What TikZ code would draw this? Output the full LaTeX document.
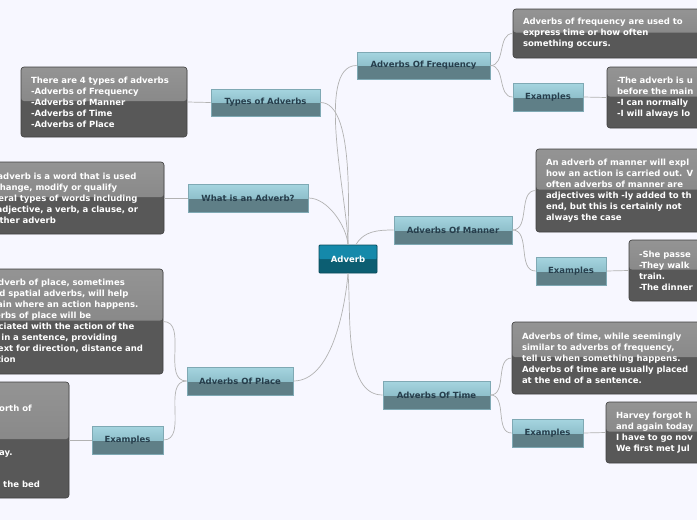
\documentclass[tikz,border=0pt]{standalone}
\usepackage{fontspec}
\setmainfont{DejaVu Sans}
\definecolor{gtop}{HTML}{7E7E7E}
\definecolor{gbot}{HTML}{585858}
\definecolor{btop}{HTML}{8FCAD8}
\definecolor{bbot}{HTML}{5F7F87}
\definecolor{bdr}{HTML}{7FA9B4}
\definecolor{btxt}{HTML}{263E4C}
\definecolor{rtop}{HTML}{1589AA}
\definecolor{rbot}{HTML}{0C5E72}
\begin{document}
\begin{tikzpicture}[x=1pt,y=-1pt,
  conn/.style={draw=black!30,line width=0.7pt},
  graybox/.style={draw=black!75,line width=0.6pt,rounded corners=3pt,fill=gbot,
    text=white,font=\fontsize{8.5}{11}\selectfont\bfseries,align=left,inner xsep=10pt,
    path picture={\shade[top color=black!42,bottom color=gtop] (path picture bounding box.north west) rectangle ([yshift=1pt]path picture bounding box.east);}},
  bluebox/.style={draw=bdr,line width=0.9pt,fill=bbot,
    text=btxt,font=\fontsize{8.5}{10}\selectfont\bfseries,
    path picture={\shade[top color=btop!80!white,bottom color=btop!85!black] (path picture bounding box.north west) rectangle (path picture bounding box.east);}},
  rootbox/.style={draw=rbot!80!black,line width=0.8pt,fill=rbot,rounded corners=1pt,
    text=white,font=\fontsize{8.5}{10}\selectfont\bfseries,
    path picture={\fill[rtop] (path picture bounding box.north west) rectangle (path picture bounding box.east);}}
]
\newcommand{\bx}[7]{\pgfmathsetmacro{\cx}{(#3+#5)/2}\pgfmathsetmacro{\cy}{(#4+#6)/2}%
  \pgfmathsetmacro{\bw}{#5-#3}\pgfmathsetmacro{\bh}{#6-#4}\pgfmathsetmacro{\tw}{#5-#3-20}%
  \node[#1,minimum width=\bw pt,minimum height=\bh pt,inner ysep=0pt,text width=\tw pt] (#2) at (\cx,\cy) {#7};}
\newcommand{\bl}[7]{\pgfmathsetmacro{\cx}{(#3+#5)/2}\pgfmathsetmacro{\cy}{(#4+#6)/2}%
  \pgfmathsetmacro{\bw}{#5-#3}\pgfmathsetmacro{\bh}{#6-#4}%
  \node[#1,minimum width=\bw pt,minimum height=\bh pt,inner sep=0pt] (#2) at (\cx,\cy) {#7};}
\useasboundingbox (0,0) rectangle (697,520);
\clip (0,0) rectangle (697,520);
\fill[blue!3] (0,0) rectangle (697,520);

% gray description boxes
\bx{graybox}{fd}{513}{9}{760}{58}{Adverbs of frequency are used to\\express time or how often\\something occurs.}
\bx{graybox}{fe}{607}{67}{760}{128}{-The adverb is u\\before the main\\-I can normally\\-I will always lo}
\bx{graybox}{td}{21}{67}{187}{137}{There are 4 types of adverbs\\-Adverbs of Frequency\\-Adverbs of Manner\\-Adverbs of Time\\-Adverbs of Place}
\bx{graybox}{wd}{-28}{162}{164}{234}{An adverb is a word that is used\\to change, modify or qualify\\several types of words including\\an adjective, a verb, a clause, or\\another adverb}
\bx{graybox}{md}{536}{149}{760}{232}{An adverb of manner will expl\\how an action is carried out. V\\often adverbs of manner are\\adjectives with -ly added to th\\end, but this is certainly not\\always the case}
\bx{graybox}{me}{629}{240}{760}{301}{-She passe\\-They walk\\train.\\-The dinner}
\bx{graybox}{pd}{-33}{269}{163}{374}{An adverb of place, sometimes\\called spatial adverbs, will help\\explain where an action happens.\\Adverbs of place will be\\associated with the action of the\\verb in a sentence, providing\\context for direction, distance and\\position}
\bx{graybox}{pe}{-60}{382}{69}{498}{}
\node[font=\fontsize{8.5}{11}\selectfont\bfseries,text=white,anchor=base west,inner sep=0pt] (pe1) at (-1,411) {orth of};
\node[font=\fontsize{8.5}{11}\selectfont\bfseries,text=white,anchor=base west,inner sep=0pt] (pe2) at (-1,455) {ay.};
\node[font=\fontsize{8.5}{11}\selectfont\bfseries,text=white,anchor=base west,inner sep=0pt] (pe3) at (3,487) {the bed};
\bx{graybox}{tmd}{512}{322}{760}{394}{Adverbs of time, while seemingly\\similar to adverbs of frequency,\\tell us when something happens.\\Adverbs of time are usually placed\\at the end of a sentence.}
\bx{graybox}{tme}{606}{402}{760}{463}{Harvey forgot h\\and again today\\I have to go nov\\We first met Jul}

% branch boxes
\bl{rootbox}{root}{319}{245}{377}{273}{Adverb}
\bl{bluebox}{fr}{357}{52}{490}{79}{Adverbs Of Frequency}
\bl{bluebox}{fx}{513}{83}{583}{111}{Examples}
\bl{bluebox}{ty}{211}{89}{320}{116}{Types of Adverbs}
\bl{bluebox}{wh}{188}{184}{308}{212}{What is an Adverb?}
\bl{bluebox}{ma}{394}{216}{512}{244}{Adverbs Of Manner}
\bl{bluebox}{mx}{536}{257}{606}{285}{Examples}
\bl{bluebox}{pl}{187}{367}{293}{395}{Adverbs Of Place}
\bl{bluebox}{px}{92}{426}{163}{454}{Examples}
\bl{bluebox}{ti}{383}{381}{490}{409}{Adverbs Of Time}
\bl{bluebox}{tx}{512}{419}{583}{447}{Examples}

% connectors
\draw[conn] (root.north) to[out=90,in=180,looseness=0.6] (fr.west);
\draw[conn] (root.north) to[out=90,in=0,looseness=0.6] (ty.east);
\draw[conn] (root.north) to[out=95,in=0,looseness=0.8] (wh.east);
\draw[conn] ([xshift=8pt]root.north) to[out=60,in=180] (ma.west);
\draw[conn] (root.south) to[out=-95,in=0,looseness=0.8] (pl.east);
\draw[conn] (root.south) to[out=-85,in=180,looseness=0.8] (ti.west);
\draw[conn] (fr.east) to[out=0,in=180] (fd.west);
\draw[conn] (fr.east) to[out=0,in=180] (fx.west);
\draw[conn] (fx.east) -- (fe.west);
\draw[conn] (ty.west) -- (td.east);
\draw[conn] (wh.west) -- (wd.east);
\draw[conn] (ma.east) to[out=0,in=180] (md.west);
\draw[conn] (ma.east) to[out=0,in=180] (mx.west);
\draw[conn] (mx.east) -- (me.west);
\draw[conn] (pl.west) to[out=180,in=0] (pd.east);
\draw[conn] (pl.west) to[out=180,in=0] (px.east);
\draw[conn] (px.west) -- (pe.east);
\draw[conn] (ti.east) to[out=0,in=180] (tmd.west);
\draw[conn] (ti.east) to[out=0,in=180] (tx.west);
\draw[conn] (tx.east) -- (tme.west);
\end{tikzpicture}
\end{document}
